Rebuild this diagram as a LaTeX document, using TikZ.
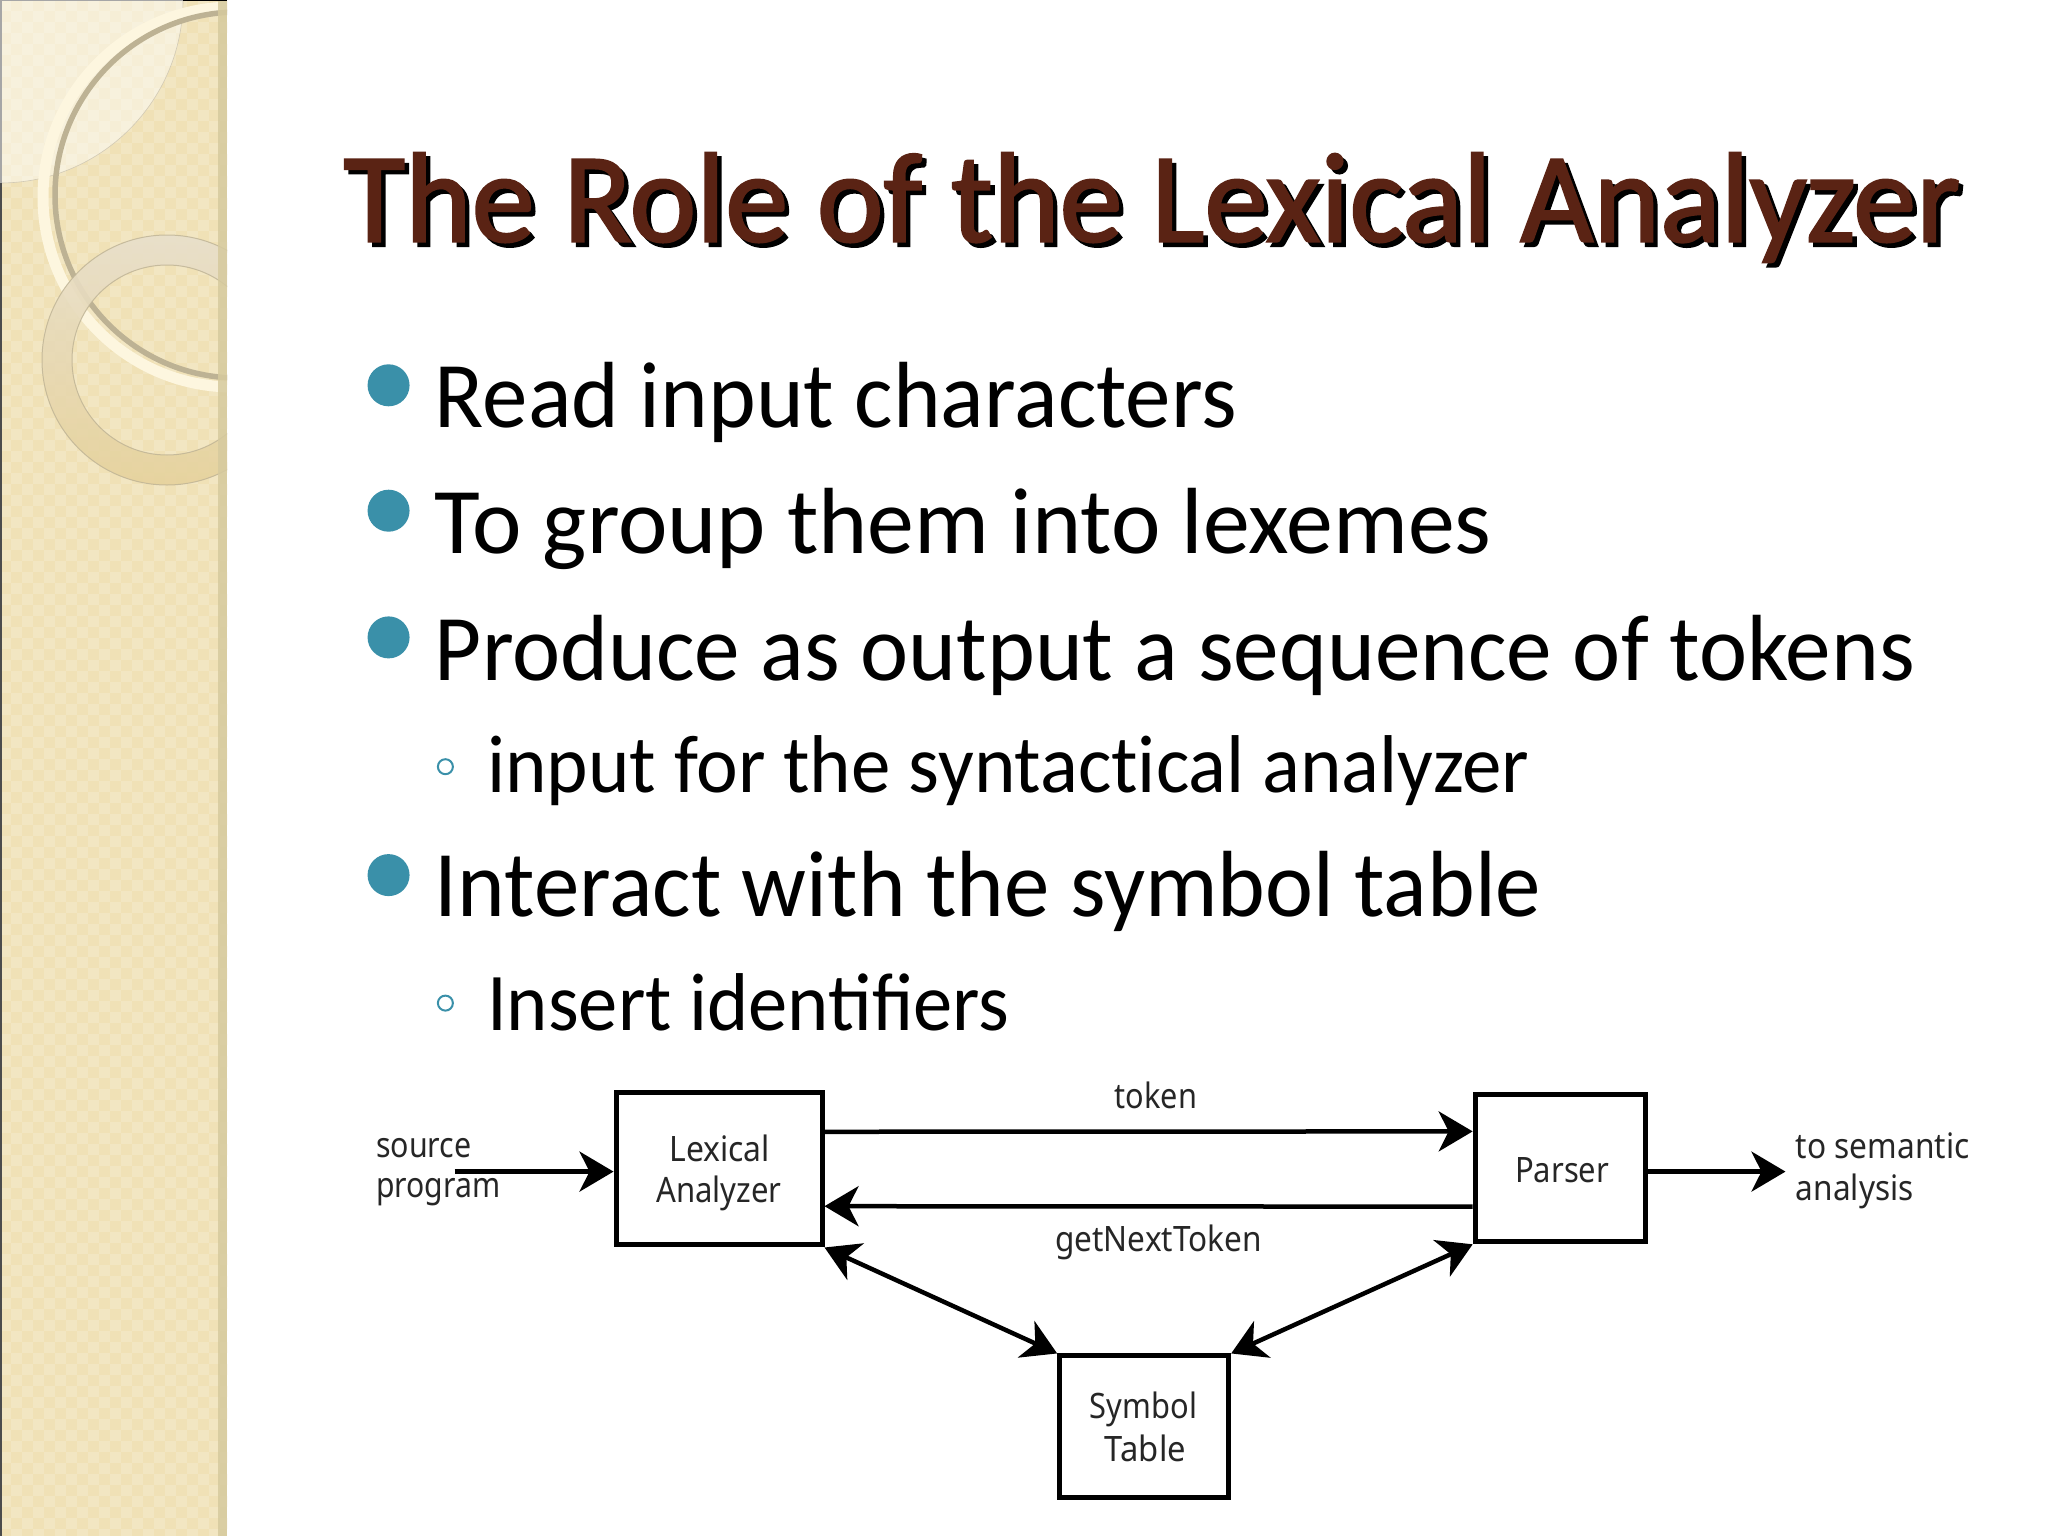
\documentclass[tikz,border=0pt]{standalone}
\usepackage{fontspec}
\usepackage{graphicx}
\usetikzlibrary{arrows.meta,calc}
\setmainfont{Carlito}
\newfontfamily\dgfont{Noto Sans}
\newfontfamily\titleface[FakeBold=1.6]{Carlito}
\definecolor{sand}{HTML}{F0E1B6}
\definecolor{sandlite}{HTML}{F2E6C2}
\definecolor{sandband}{HTML}{D6CA9E}
\definecolor{ringgrey}{HTML}{BDB294}
\definecolor{ringwhite}{HTML}{FDF6DF}
\definecolor{ringtop}{HTML}{E8DFCB}
\definecolor{ringbot}{HTML}{E6D29C}
\definecolor{titlebrown}{HTML}{5A2314}
\definecolor{bulletteal}{HTML}{3A90A9}
\newsavebox{\fitbox}
% #1 target width in reference display units, #2 text: stretched horizontally to that width
\newcommand{\fitx}[2]{\sbox{\fitbox}{#2}\pgfmathsetmacro{\fitratio}{#1*1.30612/\the\wd\fitbox}\scalebox{\fitratio}[1]{\usebox{\fitbox}}}
\tikzset{
  txt/.style={inner sep=0pt,outer sep=0pt,anchor=base west},
  bulletdot/.style={circle,fill=bulletteal,inner sep=0pt,minimum size=42pt},
  subdot/.style={circle,draw=bulletteal,line width=2pt,inner sep=0pt,minimum size=15pt},
  boxn/.style={draw=black,line width=5pt,inner sep=0pt,align=center,font=\dgfont\fontsize{35}{42}\selectfont,text=black!85},
  lab/.style={inner sep=0pt,outer sep=0pt,font=\dgfont\fontsize{35}{42}\selectfont,text=black!85},
  conn/.style={draw=black,line width=4.5pt,-{Stealth[length=34pt,width=40pt,inset=10pt]}},
  conn2/.style={draw=black,line width=4.5pt,{Stealth[length=34pt,width=40pt,inset=10pt]}-{Stealth[length=34pt,width=40pt,inset=10pt]}},
}
\newcommand{\bodyfont}{\fontsize{94}{110}\selectfont}
\newcommand{\subfont}{\fontsize{82}{96}\selectfont}
\newcommand{\titlefont}{\titleface\fontsize{128}{140}\selectfont}
\begin{document}
\begin{tikzpicture}[x=1pt,y=-1pt]
\useasboundingbox (0,0) rectangle (2048,1536);
\fill[white] (0,0) rectangle (2048,1536);
% ---- sidebar ----
\begin{scope}
\clip (0,0) rectangle (227,1536);
\fill[sand] (0,0) rectangle (227,1536);
\foreach \i in {0,...,20}{
  \foreach \j in {0,...,139}{
    \pgfmathtruncatemacro{\cellodd}{mod(\i+\j,2)}
    \ifnum\cellodd=0
      \fill[sandlite] (\i*11,\j*11) rectangle ++(11,11);
    \fi
  }
}
\fill[white,fill opacity=.45] (0,0) circle[radius=183pt];
\draw[ringgrey!70,line width=.6pt] (0,0) circle[radius=183pt];
\draw[ringwhite,line width=11pt] (233,197) circle[radius=190pt];
\draw[ringgrey,line width=5.5pt] (238,195) circle[radius=183pt];
\path[even odd rule,top color=ringtop,bottom color=ringbot,fill opacity=.9,
      draw=ringgrey,draw opacity=.8,line width=1pt]
   (167,360) circle[radius=125pt] (167,360) circle[radius=95pt];
\fill[sandband,fill opacity=.85] (218,0) rectangle (227,1536);
\draw[black!70,line width=3pt] (0,183) -- (0,1536);
\draw[black!35,line width=3pt] (0,0) -- (0,183);
\draw[black!35,line width=3pt] (0,0) -- (183,0);
\draw[black,line width=2pt] (183,0) -- (227,0);
\end{scope}
% ---- slide content, in units of 1568 x 1176 ----
\begin{scope}[x=1.30612pt,y=-1.30612pt]
\node[txt,text=black] (titleshadow) at ($(263,185)+(3.4,3.4)$) {\titlefont\fitx{1238}{The Role of the Lexical Analyzer}};
\node[txt,text=titlebrown] (title) at (263,185) {\titlefont\fitx{1238}{The Role of the Lexical Analyzer}};
\node[bulletdot] (b1) at (297.5,295) {};
\node[bulletdot] (b2) at (297.5,391) {};
\node[bulletdot] (b3) at (297.5,488) {};
\node[bulletdot] (b4) at (297.5,670) {};
\node[subdot] (s1) at (341,587) {};
\node[subdot] (s2) at (341,768) {};
\node[txt] (t1) at (333,327) {\bodyfont\fitx{614}{Read input characters}};
\node[txt] (t2) at (333,424) {\bodyfont\fitx{809}{To group them into lexemes}};
\node[txt] (t3) at (333,521) {\bodyfont\fitx{1133}{Produce as output a sequence of tokens}};
\node[txt] (t4) at (373,607) {\subfont\fitx{798}{input for the syntact\kern0pt ical analyzer}};
\node[txt] (t5) at (333,702) {\bodyfont\fitx{847}{Interact with the symbol table}};
\node[txt] (t6) at (373,789) {\subfont\fitx{400}{Insert identifiers}};
% ---- diagram ----
\node[boxn,minimum width=206pt,minimum height=152pt,text depth=0pt] (lex) at (550.5,895) {};
\node[lab] (lexa) at (551,879.5) {\fitx{77}{Lexical}};
\node[lab] (lexb) at (550.5,914) {\fitx{96}{Analyzer}};
\node[boxn,minimum width=170pt,minimum height=147pt] (par) at (1194.5,894.5) {};
\node[lab] (parl) at (1196,896) {\fitx{72}{Parser}};
\node[boxn,minimum width=169pt,minimum height=142pt] (sym) at (876,1092.5) {};
\node[lab] (syma) at (875.5,1079) {\fitx{82}{Symbol}};
\node[lab] (symb) at (877,1109) {\fitx{62}{Table}};
\node[lab,anchor=base west] (srca) at (288,886) {\fitx{73}{source}};
\node[lab,anchor=base west] (srcb) at (288,917) {\fitx{95}{program}};
\node[lab,anchor=base west] (sema) at (1375,887) {\fitx{133}{to semantic}};
\node[lab,anchor=base west] (semb) at (1375,919) {\fitx{90}{analysis}};
\node[lab] (tok) at (885,839) {\fitx{63}{token}};
\node[lab] (gnt) at (887,951) {\fitx{158}{getNextToken}};
\coordinate (srcstart) at (348,897);
\coordinate (semend) at (1367,897);
\draw[conn] (srcstart) -- (srcstart -| lex.west);
\draw[conn] ($(lex.north east)!.263!(lex.south east)$) -- ($(par.north west)!.257!(par.south west)$);
\draw[conn] ($(par.north west)!.752!(par.south west)$) -- ($(lex.north east)!.737!(lex.south east)$);
\draw[conn2] (lex.south east) -- (sym.north west);
\draw[conn2] (sym.north east) -- (par.south west);
\draw[conn] (semend -| par.east) -- (semend);
\end{scope}
\end{tikzpicture}
\end{document}
